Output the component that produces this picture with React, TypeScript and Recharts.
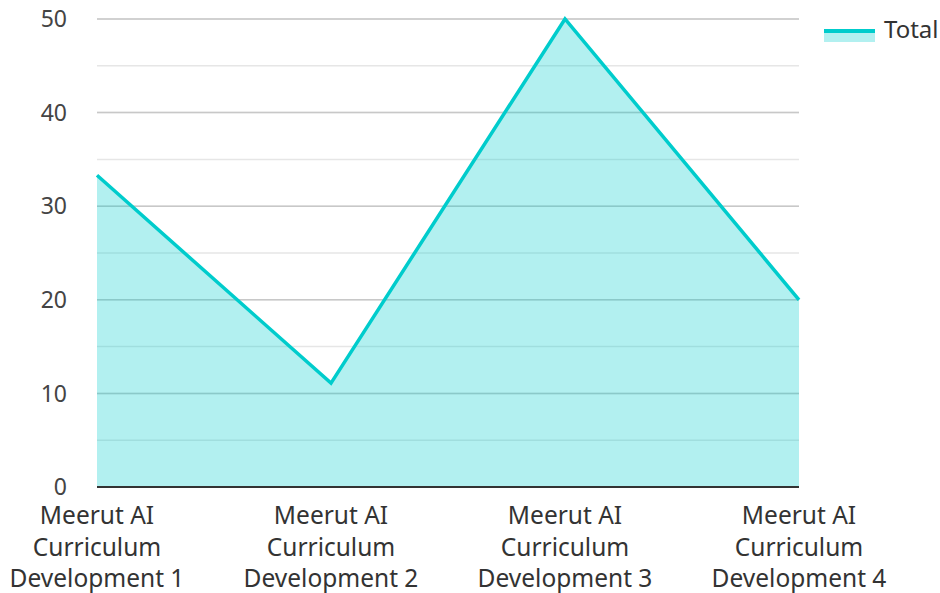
import { Area, AreaChart, CartesianGrid, XAxis, YAxis } from "recharts";

const categories = [
	"Meerut AI Curriculum Development 1",
	"Meerut AI Curriculum Development 2",
	"Meerut AI Curriculum Development 3",
	"Meerut AI Curriculum Development 4",
];
const totals = [33.3, 11.1, 50, 20];
const yTicks = [0, 10, 20, 30, 40, 50];
const minorTicks = [0, 5, 10, 15, 20, 25, 30, 35, 40, 45, 50];

const data = categories.map((name, i) => ({ name, Total: totals[i] }));

const FONT = "'Noto Sans', 'Open Sans', sans-serif";
const TEAL = "#00cccc";

// splits "Meerut AI Curriculum Development 1" into three lines
function XTick({ x, y, payload }: any) {
	const words = String(payload.value).split(" ");
	const lines = [words.slice(0, 2).join(" "), words[2], words.slice(3).join(" ")];
	return (
		<text x={x} y={y} textAnchor="middle" fill="#333" fontSize={24.5} fontFamily={FONT}>
			{lines.map((l, i) => (
				<tspan key={i} x={x} dy={i === 0 ? 29 : 31.5}>
					{l}
				</tspan>
			))}
		</text>
	);
}

export default function App() {
	return (
		<div style={{ position: "absolute", left: 0, top: 0, width: 940, height: 593, background: "#fff" }}>
			<AreaChart
				width={940}
				height={593}
				data={data}
				margin={{ top: 19, right: 141, left: 0, bottom: 0 }}
			>
				<CartesianGrid
					vertical={false}
					horizontalValues={minorTicks}
					stroke="#e6e6e6"
					strokeWidth={1.5}
				/>
				<CartesianGrid vertical={false} stroke="#c8c8c8" strokeWidth={1.5} />
				<XAxis
					dataKey="name"
					height={106}
					interval={0}
					tickLine={false}
					axisLine={{ stroke: "#333", strokeWidth: 2 }}
					tick={<XTick />}
				/>
				<YAxis
					width={97}
					domain={[0, 50]}
					ticks={yTicks}
					axisLine={false}
					tickLine={false}
					tickMargin={24}
					tick={{ fill: "#444", fontSize: 23, fontFamily: FONT }}
				/>
				<Area
					type="linear"
					dataKey="Total"
					stroke={TEAL}
					strokeWidth={3.5}
					fill={TEAL}
					fillOpacity={0.3}
					isAnimationActive={false}
					dot={false}
					activeDot={false}
				/>
			</AreaChart>
			<svg width={120} height={50} style={{ position: "absolute", left: 820, top: 10 }}>
				<rect x={4} y={21} width={51} height={11} fill={TEAL} fillOpacity={0.3} />
				<line x1={4} x2={55} y1={21} y2={21} stroke={TEAL} strokeWidth={4} />
				<text x={64} y={22} fill="#333" fontSize={24} fontFamily={FONT} dominantBaseline="middle">
					Total
				</text>
			</svg>
		</div>
	);
}
